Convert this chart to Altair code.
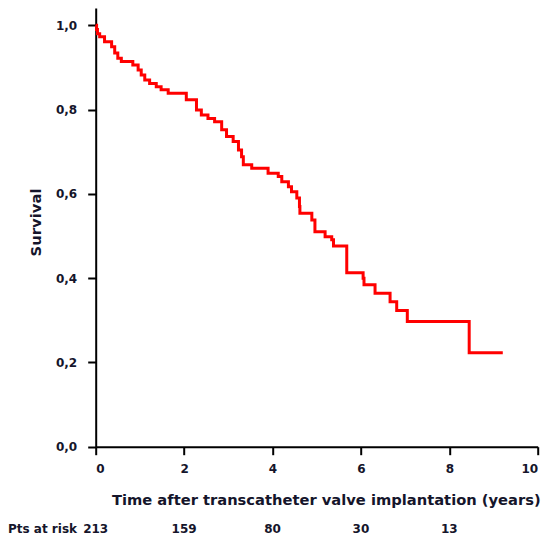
import altair as alt
import pandas as pd

# Kaplan-Meier step points (time in years, survival after the step)
times = [0.00, 0.02, 0.04, 0.09, 0.20, 0.36, 0.43, 0.50, 0.58, 0.84,
         0.96, 1.03, 1.11, 1.22, 1.37, 1.48, 1.64, 2.05, 2.28, 2.39,
         2.54, 2.69, 2.85, 2.96, 3.11, 3.23, 3.30, 3.34, 3.53, 3.90,
         4.13, 4.21, 4.36, 4.43, 4.55, 4.61, 4.62, 4.89, 4.96, 5.19,
         5.34, 5.38, 5.68, 6.05, 6.07, 6.32, 6.66, 6.81, 7.05, 8.45,
         9.21]
survival = [1.000, 0.990, 0.980, 0.973, 0.961, 0.949, 0.934, 0.922, 0.914, 0.906,
            0.894, 0.882, 0.870, 0.862, 0.854, 0.847, 0.839, 0.823, 0.799, 0.787,
            0.779, 0.771, 0.752, 0.736, 0.724, 0.704, 0.688, 0.669, 0.661, 0.649,
            0.641, 0.629, 0.617, 0.605, 0.590, 0.570, 0.554, 0.538, 0.510, 0.498,
            0.491, 0.476, 0.413, 0.400, 0.384, 0.364, 0.344, 0.323, 0.297, 0.223,
            0.223]

# Patients at risk
risk_times = [0, 2, 4, 6, 8]
risk_counts = ["213", "159", "80", "30", "13"]
risk_label = ["Pts at risk"]

x_ticks = [0, 2, 4, 6, 8, 10]
y_ticks = [0.0, 0.2, 0.4, 0.6, 0.8, 1.0]

FONT = "DejaVu Sans"
TXT = "#15152b"

km = pd.DataFrame({"t": times, "s": survival})
risk = pd.DataFrame({"t": risk_times, "n": risk_counts})
lab = pd.DataFrame({"label": risk_label})

W, H = 442, 438.7

x_scale = alt.Scale(domain=[0, 10], nice=False)
y_scale = alt.Scale(domain=[0, 1.041], nice=False)

curve = alt.Chart(km).mark_line(
    interpolate="step-after", color="#ff0000", strokeWidth=3
).encode(
    x=alt.X("t:Q", scale=x_scale, axis=alt.Axis(
        values=x_ticks, format="d",
        title="Time after transcatheter valve implantation (years)",
        titleX=444.5, titleY=54, titleAlign="right", titleBaseline="middle",
        titleFontSize=14.7, labelPadding=9,
    )),
    y=alt.Y("s:Q", scale=y_scale, axis=alt.Axis(
        values=y_ticks,
        labelExpr="replace(format(datum.value, '.1f'), '.', ',')",
        title="Survival",
        titleX=-59, titleY=214, titleAngle=-90, titleAlign="center",
        titleBaseline="middle", titleFontSize=14.8, labelPadding=11,
    )),
)

risk_text = alt.Chart(risk).mark_text(
    font=FONT, fontSize=12, fontWeight="bold", color=TXT, baseline="middle"
).encode(
    x=alt.X("t:Q", scale=x_scale),
    y=alt.value(521),
    text="n:N",
)

label_text = alt.Chart(lab).mark_text(
    font=FONT, fontSize=12, fontWeight="bold", color=TXT, baseline="middle", align="left"
).encode(
    x=alt.value(-87.7),
    y=alt.value(521),
    text="label:N",
)

chart = alt.layer(curve, risk_text, label_text).properties(
    width=W, height=H,
    autosize=alt.AutoSizeParams(type="none"),
    padding={"left": 87.7, "top": 0, "right": 4.3, "bottom": 92.3},
).configure_view(stroke=None).configure_axis(
    grid=False,
    domainColor="black", domainWidth=2,
    tickColor="black", tickWidth=2, tickSize=8,
    labelFont=FONT, labelFontWeight="bold", labelFontSize=12, labelColor=TXT,
    titleFont=FONT, titleFontWeight="bold", titleColor=TXT,
)

chart.save("out.html", embed_options={"renderer": "svg", "actions": False})
